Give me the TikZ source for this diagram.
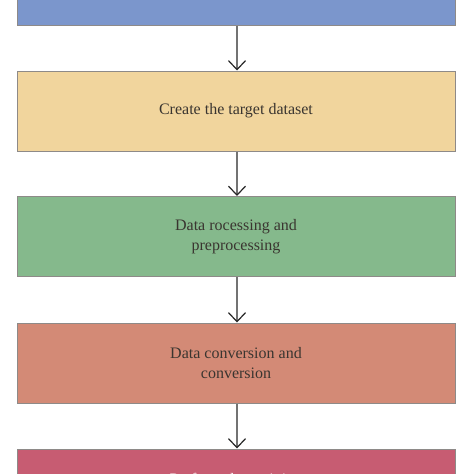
\documentclass[tikz,border=0pt]{standalone}
\usepackage{fontspec}
\setmainfont{Liberation Serif}
\usetikzlibrary{arrows.meta}
\definecolor{cblue}{HTML}{7B96CC}
\definecolor{cyellow}{HTML}{F1D59D}
\definecolor{cgreen}{HTML}{85B98C}
\definecolor{csalmon}{HTML}{D38A76}
\definecolor{cpink}{HTML}{C75C72}
\definecolor{cedge}{HTML}{8E8A88}
\definecolor{ctext}{HTML}{3A3530}
\tikzset{
  stagebox/.style={draw=cedge, line width=1pt, minimum width=438pt, minimum height=80pt,
    inner sep=0pt, align=center, font=\fontsize{16}{20}\selectfont, text=ctext},
  flowarrow/.style={draw=black!55, line width=1.4pt, -{Straight Barb[length=9pt,width=17pt,line width=1.2pt,black!85]}}
}
\begin{document}
\begin{tikzpicture}[x=1pt,y=-1pt]
\useasboundingbox (0,0) rectangle (474,474);
\clip (0,0) rectangle (474,474);
\node[stagebox, fill=cblue, text=white] (b1) at (236,-15) {};
\node[stagebox, fill=cyellow] (b2) at (236,111) {Create the target dataset};
\node[stagebox, fill=cgreen] (b3) at (236,236.5) {Data rocessing and\\preprocessing};
\node[stagebox, fill=csalmon] (b4) at (236,363) {Data conversion and\\conversion};
\node[stagebox, fill=cpink, text=white] (b5) at (236,489) {Perform data mining\\};
\draw[flowarrow] (b1.south -| 237,0) -- (b2.north -| 237,0);
\draw[flowarrow] (b2.south -| 237,0) -- (b3.north -| 237,0);
\draw[flowarrow] (b3.south -| 237,0) -- (b4.north -| 237,0);
\draw[flowarrow] (b4.south -| 237,0) -- (b5.north -| 237,0);
\end{tikzpicture}
\end{document}
